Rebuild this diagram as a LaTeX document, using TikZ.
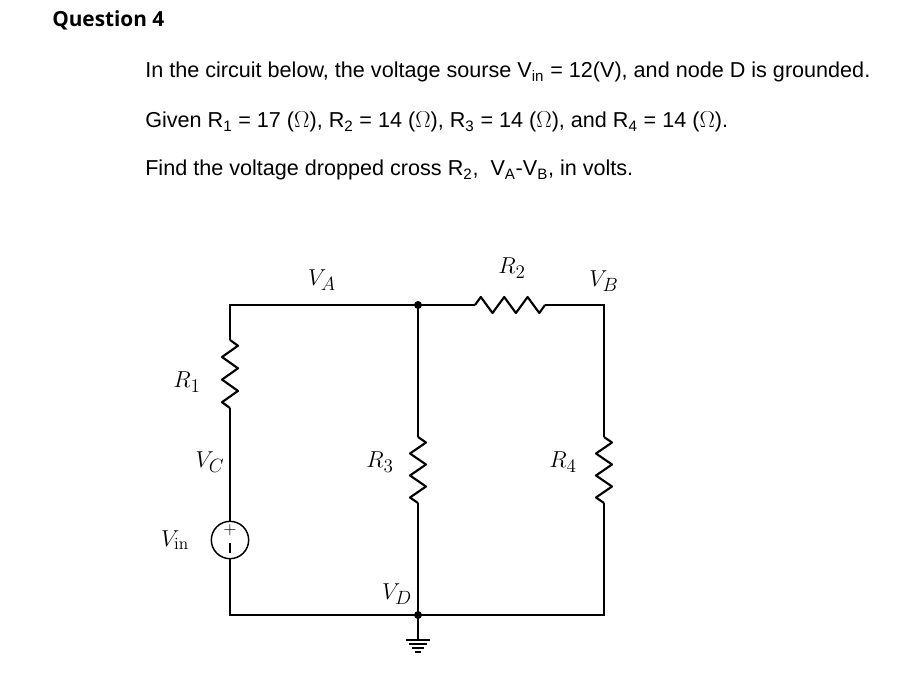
\documentclass[tikz,border=0pt]{standalone}
\usepackage{fontspec}
\setmainfont{Liberation Sans}
\newfontfamily\qfont{Open Sans}
\newfontfamily\lm{Latin Modern Roman}
\begin{document}
\begin{tikzpicture}[x=0.75pt,y=-0.75pt,
  wire/.style={line width=1.1pt},
  res/.style={line width=1.6pt,line join=round},
  txt/.style={anchor=west,font=\fontsize{16.2}{18}\selectfont,inner sep=0},
  lab/.style={font=\fontsize{19}{21}\selectfont,inner sep=0},
  dot/.style={circle,fill,inner sep=0,minimum size=6pt}]
\useasboundingbox (0,0) rectangle (907,696);
\node[anchor=west,font=\qfont\bfseries\fontsize{15.6}{17}\selectfont,inner sep=0] (q) at (52,20) {Question 4};
\node[txt] (t1) at (145,72) {In the circuit below, the voltage sourse V\textsubscript{in} = 12(V), and node D is grounded.};
\node[txt] (t2) at (145,122) {Given R\textsubscript{1} = 17 ($\Omega$), R\textsubscript{2} = 14 ($\Omega$), R\textsubscript{3} = 14 ($\Omega$), and R\textsubscript{4} = 14 ($\Omega$).};
\node[txt] (t3) at (145,170) {Find the voltage dropped cross R\textsubscript{2},\ \ V\textsubscript{A}-V\textsubscript{B}, in volts.};
% coordinates
\coordinate (TL) at (230,305); \coordinate (A) at (418,305); \coordinate (TR) at (604,305);
\coordinate (BL) at (230,615); \coordinate (D) at (418,615); \coordinate (BR) at (604,615);
\coordinate (r1a) at (230,340); \coordinate (r1b) at (230,408);
\coordinate (r3a) at (418,437); \coordinate (r3b) at (418,503);
\coordinate (r4a) at (604,437); \coordinate (r4b) at (604,503);
\coordinate (r2a) at (475,305); \coordinate (r2b) at (545,305);
\coordinate (S) at (230,540);
\node[circle,draw,line width=1.1pt,minimum size=28pt,inner sep=0] (src) at (S) {};
% wires
\draw[wire] (r1a) -- (TL) -- (A) -- (r2a);
\draw[wire] (r2b) -- (TR) -- (r4a);
\draw[wire] (r4b) -- (BR) -- (D) -- (BL) -- (src.south);
\draw[wire] (src.north) -- (r1b);
\draw[wire] (A) -- (r3a); \draw[wire] (r3b) -- (D);
% resistors
\draw[res] (r1a) -- ++(8,5.7) -- ++(-16,11.3) -- ++(16,11.3) -- ++(-16,11.3) -- ++(16,11.3) -- ++(-16,11.3) -- (r1b);
\draw[res] (r3a) -- ++(8,5.5) -- ++(-16,11) -- ++(16,11) -- ++(-16,11) -- ++(16,11) -- ++(-16,11) -- (r3b);
\draw[res] (r4a) -- ++(8,5.5) -- ++(-16,11) -- ++(16,11) -- ++(-16,11) -- ++(16,11) -- ++(-16,11) -- (r4b);
\draw[res] (r2a) -- ++(5.8,-8) -- ++(11.7,16) -- ++(11.7,-16) -- ++(11.7,16) -- ++(11.7,-16) -- ++(11.7,16) -- (r2b);
% source signs
\node[font=\fontsize{13}{14}\selectfont,inner sep=0] (plus) at (230,530) {\lm +};
\draw[line width=1pt] (230,543) -- (230,553);
% dots
\node[dot] (dA) at (A) {}; \node[dot] (dD) at (D) {};
% ground
\coordinate (G) at (418,640);
\draw[wire] (D) -- (G);
\draw[line width=0.9pt] (406,640) -- (430,640) (409,644) -- (427,644) (412,648) -- (424,648) (415,652) -- (421,652);
% labels
\node[lab] (lA) at (322,280) {$V_A$};
\node[lab] (lR2) at (512,268) {$R_2$};
\node[lab] (lB) at (604,281) {$V_B$};
\node[lab] (lR1) at (187,382) {$R_1$};
\node[lab] (lC) at (210,462) {$V_C$};
\node[lab] (lR3) at (380,462) {$R_3$};
\node[lab] (lR4) at (563,462) {$R_4$};
\node[lab] (lin) at (175,540) {$V_{\hbox{\lm\fontsize{13}{13}\selectfont in}}$};
\node[lab] (lD) at (397,594) {$V_D$};
\end{tikzpicture}
\end{document}
